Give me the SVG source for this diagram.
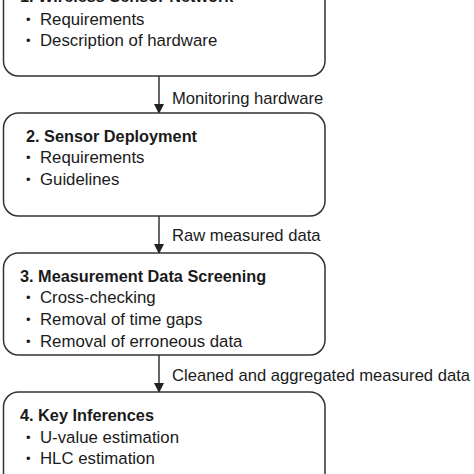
<svg xmlns="http://www.w3.org/2000/svg" width="474" height="474" viewBox="0 0 474 474">
<defs>
<marker id="ah" markerWidth="10" markerHeight="10" refX="9" refY="5" orient="auto" markerUnits="userSpaceOnUse">
<path d="M0,0 L10,5 L0,10 z" fill="#222"/>
</marker>
<style>
.box{fill:#fff;stroke:#333;stroke-width:1.5}
text{font-family:"Liberation Sans",Arial,sans-serif;font-size:16.8px;fill:#1a1a1a}
.t{font-weight:bold;font-size:16.3px}
.l{font-size:16.6px}
.b{font-size:13px}
.c{stroke:#333;stroke-width:1.5;fill:none}
</style>
</defs>
<rect width="474" height="474" fill="#fff"/>
<g id="connectors">
<line class="c" x1="159" y1="76" x2="159" y2="113" marker-end="url(#ah)"/>
<text class="l" x="172" y="104">Monitoring hardware</text>
<line class="c" x1="159" y1="216" x2="159" y2="253" marker-end="url(#ah)"/>
<text class="l" x="172" y="241">Raw measured data</text>
<line class="c" x1="159" y1="355" x2="159" y2="392" marker-end="url(#ah)"/>
<text class="l" x="172" y="381">Cleaned and aggregated measured data</text>
</g>
<g id="node1">
<rect class="box" x="3.5" y="-30" width="321.5" height="106" rx="15"/>
<text class="t" x="20" y="2">1. Wireless Sensor Network</text>
<text class="b" x="26" y="24">•</text><text x="40" y="25">Requirements</text>
<text class="b" x="26" y="45">•</text><text x="40" y="46">Description of hardware</text>
</g>
<g id="node2">
<rect class="box" x="3.5" y="113" width="321.5" height="103" rx="15"/>
<text class="t" x="26" y="142">2. Sensor Deployment</text>
<text class="b" x="26" y="162">•</text><text x="40" y="163">Requirements</text>
<text class="b" x="26" y="184">•</text><text x="40" y="185">Guidelines</text>
</g>
<g id="node3">
<rect class="box" x="3.5" y="253" width="321.5" height="102" rx="15"/>
<text class="t" x="20" y="282">3. Measurement Data Screening</text>
<text class="b" x="26" y="302">•</text><text x="40" y="303">Cross-checking</text>
<text class="b" x="26" y="324">•</text><text x="40" y="325">Removal of time gaps</text>
<text class="b" x="26" y="346">•</text><text x="40" y="347">Removal of erroneous data</text>
</g>
<g id="node4">
<rect class="box" x="3.5" y="392" width="321.5" height="110" rx="15"/>
<text class="t" x="20" y="421">4. Key Inferences</text>
<text class="b" x="26" y="442">•</text><text x="40" y="443">U-value estimation</text>
<text class="b" x="26" y="463">•</text><text x="40" y="464">HLC estimation</text>
</g>
</svg>
